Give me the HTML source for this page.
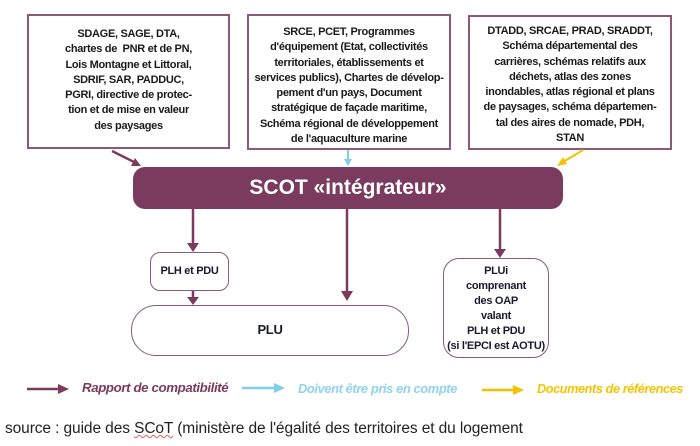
<!DOCTYPE html>
<html><head><meta charset="utf-8"><style>
body{margin:0;width:700px;height:446px;background:#fff;position:relative;overflow:hidden;font-family:"Liberation Sans",sans-serif}
.b{position:absolute;border:2px solid #8a5a78;box-sizing:border-box;text-align:center;font-size:11px;line-height:15.3px;color:#1a1a1a;font-weight:bold;letter-spacing:-0.3px}
.r{position:absolute;border:1.5px solid #8a5a78;box-sizing:border-box;text-align:center;font-size:11px;font-weight:bold;color:#1a1a2e;letter-spacing:-0.3px}
.t{position:absolute;font-size:13px;font-weight:bold;font-style:italic;letter-spacing:-0.4px}
</style></head><body>
<div class="b" style="left:27px;top:14px;width:203px;height:135px;padding-top:11px">SDAGE, SAGE, DTA,<br>chartes de&nbsp; PNR et de PN,<br>Lois Montagne et Littoral,<br>SDRIF, SAR, PADDUC,<br>PGRI, directive de protec-<br>tion et de mise en valeur<br>des paysages</div>
<div class="b" style="left:247px;top:14px;width:204px;height:136px;padding-top:9px">SRCE, PCET, Programmes<br>d'équipement (Etat, collectivités<br>territoriales, établissements et<br>services publics), Chartes de dévelop-<br>pement d'un pays, Document<br>stratégique de façade maritime,<br>Schéma régional de développement<br>de l'aquaculture marine</div>
<div class="b" style="left:468px;top:15px;width:204px;height:135px;padding-top:7px">DTADD, SRCAE, PRAD, SRADDT,<br>Schéma départemental des<br>carrières, schémas relatifs aux<br>déchets, atlas des zones<br>inondables, atlas régional et plans<br>de paysages, schéma départemen-<br>tal des aires de nomade, PDH,<br>STAN</div>
<div style="position:absolute;left:133px;top:167px;width:430px;height:42px;background:#7b3b5f;border-radius:12px;color:#fff;font-weight:bold;font-size:21px;text-align:center;line-height:42px">SCOT «intégrateur»</div>
<div class="r" style="left:150px;top:252px;width:79px;height:39px;border-radius:10px;line-height:36px">PLH et PDU</div>
<div class="r" style="left:131px;top:305px;width:278px;height:51px;border-radius:25px;line-height:48px;font-size:13px">PLU</div>
<div class="r" style="left:443px;top:258px;width:106px;height:100px;border-radius:16px;padding-top:5px;line-height:15px">PLUi<br>comprenant<br>des OAP<br>valant<br>PLH et PDU<br>(si l'EPCI est AOTU)</div>
<svg style="position:absolute;left:0;top:0" width="700" height="446">
<g stroke="#7b3b5f" stroke-width="2.5" fill="none">
<line x1="112" y1="151" x2="136" y2="163"/>
<line x1="193" y1="209" x2="193" y2="244"/>
<line x1="193" y1="291" x2="193" y2="298"/>
<line x1="347" y1="209" x2="347" y2="292"/>
<line x1="500" y1="209" x2="500" y2="250"/>
<line x1="27" y1="389" x2="60" y2="389"/>
</g>
<g fill="#7b3b5f">
<path d="M141,166L131,166L135,158z"/>
<path d="M187,243L199,243L193,252z"/>
<path d="M187,297L199,297L193,305z"/>
<path d="M341,291L353,291L347,301z"/>
<path d="M494,249L506,249L500,258z"/>
<path d="M58,384L69,389L58,394z"/>
</g>
<line x1="348" y1="150" x2="348" y2="160" stroke="#7fcfe9" stroke-width="2"/>
<path d="M344,159L352,159L348,166z" fill="#7fcfe9"/>
<line x1="583" y1="150" x2="563" y2="162" stroke="#f5c000" stroke-width="2"/>
<path d="M557,166L563,157L567,164z" fill="#f5c000"/>
<line x1="242" y1="388" x2="276" y2="388" stroke="#7fcfe9" stroke-width="2.5"/>
<path d="M274,383L285,388L274,393z" fill="#7fcfe9"/>
<line x1="482" y1="390" x2="515" y2="390" stroke="#f5c000" stroke-width="2.5"/>
<path d="M513,385L524,390L513,395z" fill="#f5c000"/>
</svg>
<div class="t" style="left:82px;top:380px;color:#7b3b5f;font-size:13.3px">Rapport de compatibilité</div>
<div class="t" style="left:298px;top:381px;color:#8fd3ee;font-size:12.9px">Doivent être pris en compte</div>
<div class="t" style="left:537px;top:382px;color:#f5c400;font-size:12.7px">Documents de références</div>
<div style="position:absolute;left:5px;top:420px;font-size:15.5px;color:#222;letter-spacing:-0.1px">source : guide des <span style="text-decoration:underline wavy #e06060;text-decoration-thickness:1px">SCoT</span> (ministère de l'égalité des territoires et du logement</div>
</body></html>
